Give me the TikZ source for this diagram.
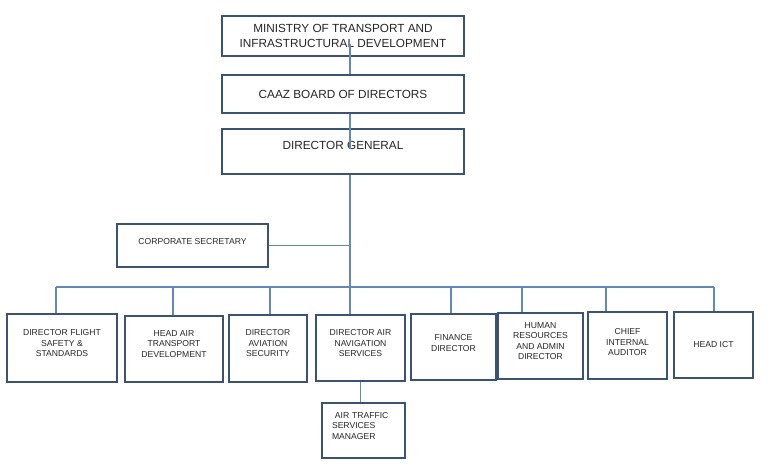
\documentclass[tikz,border=0pt]{standalone}
\usepackage{fontspec}
\setmainfont{Liberation Sans}
\usetikzlibrary{positioning, calc}
\definecolor{boxline}{RGB}{58,82,115}
\definecolor{wireblue}{RGB}{98,136,184}

\begin{document}
\begin{tikzpicture}[
    x=0.02cm, y=-0.02cm,
    bigbox/.style 2 args={rectangle, draw=boxline, line width=1.1pt, fill=white,
                minimum width=#1*0.02cm, minimum height=#2*0.02cm, inner sep=1pt,
                font=\fontsize{6.7}{8.5}\selectfont, align=center, text=black!85},
    smallbox/.style 2 args={rectangle, draw=boxline, line width=1.1pt, fill=white,
                minimum width=#1*0.02cm, minimum height=#2*0.02cm, inner sep=1pt,
                font=\fontsize{4.9}{5.8}\selectfont, align=center, text=black!85},
    lift/.style={text depth=#1*0.04cm},
    wire/.style={line width=0.75pt, wireblue},
]
\useasboundingbox (0,0) rectangle (768,470);

% Top of the chart
\node[bigbox={242}{40}] (ministry) at (343,36) {MINISTRY OF TRANSPORT AND\\INFRASTRUCTURAL DEVELOPMENT};
\node[bigbox={242}{38}] (board) at (343,94) {CAAZ BOARD OF DIRECTORS};
\node[bigbox={242}{45}, lift=6.5] (dg) at (343,151.5) {DIRECTOR GENERAL};

% Corporate secretary
\node[smallbox={151}{43}, lift=4.5] (corpsec) at (192.5,245.5) {CORPORATE SECRETARY};

% Directorates
\node[smallbox={110}{68}, lift=5] (fs) at (62,348) {DIRECTOR FLIGHT\\SAFETY \&\\STANDARDS};
\node[smallbox={98}{66}, lift=5] (hat) at (174,349) {HEAD AIR\\TRANSPORT\\DEVELOPMENT};
\node[smallbox={78}{67}, lift=5.5] (sec) at (268,348.5) {DIRECTOR\\AVIATION\\SECURITY};
\node[smallbox={89}{66}, lift=5] (ans) at (360.5,348) {DIRECTOR AIR\\NAVIGATION\\SERVICES};
\node[smallbox={85}{66}, lift=4] (fin) at (453.5,347) {FINANCE\\DIRECTOR};
\node[smallbox={85}{66}, lift=5] (hr) at (540.5,346) {HUMAN\\RESOURCES\\AND ADMIN\\DIRECTOR};
\node[smallbox={79}{67}, lift=3.5] (cia) at (627.5,345.5) {CHIEF\\INTERNAL\\AUDITOR};
\node[smallbox={79}{66}] (ict) at (713.5,345) {HEAD ICT};

% Below air navigation
\node[smallbox={83}{55}, text depth=0.59cm, align=left, text width=1.26cm] (ats) at (363.5,430.5) {\ AIR TRAFFIC\\SERVICES\\MANAGER};

% === Connectors ===
\coordinate (spine) at (350,0);
\coordinate (bus) at (350,287);

\draw[wire] ([yshift=0.26cm]ministry.south -| spine) -- (board.north -| spine);
\draw[wire] (board.south -| spine) -- ([yshift=-0.42cm]dg.north -| spine);
\draw[wire] (dg.south -| spine) -- (bus);
\draw[wire] (corpsec.east) -- (corpsec.east -| spine);

% Drops from the bus
\foreach \n/\x in {fs/56, hat/173, sec/270, ans/350, fin/451, hr/522, cia/606, ict/714} {
    \coordinate (d\n) at (\x,287);
    \draw[wire] (d\n) -- (d\n |- \n.north);
}
\draw[wire] (dfs) -- (dict);

\draw[wire] (ans.south) -- (ans.south |- ats.north);

\end{tikzpicture}
\end{document}
